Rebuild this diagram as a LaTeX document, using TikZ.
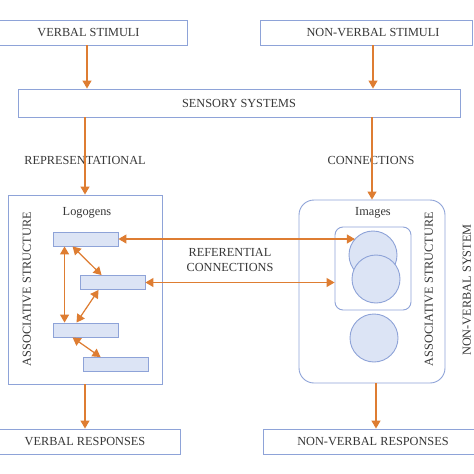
\documentclass[tikz,border=0pt]{standalone}
\usepackage{fontspec}
\setmainfont{Liberation Serif}
\usetikzlibrary{arrows.meta}

\definecolor{edgeblue}{RGB}{142,163,216}
\definecolor{fillblue}{RGB}{220,228,245}
\definecolor{linkorange}{RGB}{222,125,50}
\definecolor{textgray}{RGB}{55,55,55}

\begin{document}
\begin{tikzpicture}[
            x=1pt, y=-1pt,
            every node/.style={text=textgray, font=\fontsize{12.3}{14}\selectfont},
            box/.style={rectangle, draw=edgeblue, line width=0.9pt, fill=white, inner sep=0pt},
            logogen/.style={rectangle, draw=edgeblue, line width=0.9pt, fill=fillblue, minimum width=65pt, minimum height=14pt},
            image/.style={circle, draw=edgeblue, line width=0.9pt, fill=fillblue, minimum size=48pt, inner sep=0pt},
            arrow/.style={-{Triangle[width=9pt,length=8pt]}, draw=linkorange, fill=linkorange, line width=1.2pt},
            twoway/.style={{Triangle[width=9pt,length=8pt]}-{Triangle[width=9pt,length=8pt]}, draw=linkorange, fill=linkorange, line width=1.2pt}
        ]
            \clip (0,0) rectangle (474,474);
            \useasboundingbox (0,0) rectangle (474,474);

            % Stimuli
            \node[box, minimum width=197pt, minimum height=25pt] (vstim) at (88.5, 32.5) {VERBAL STIMULI};
            \node[box, minimum width=212pt, minimum height=25pt] (nvstim) at (366, 32.5) {\hspace*{14pt}NON-VERBAL STIMULI};
            \node[box, minimum width=442pt, minimum height=28pt] (sensory) at (239, 103) {SENSORY SYSTEMS};

            % Systems
            \node[box, minimum width=154pt, minimum height=189pt] (lbox) at (85, 289.5) {};
            \node[box, rounded corners=15pt, minimum width=146pt, minimum height=183pt] (rbox) at (372, 291.5) {};
            \node[box, rounded corners=8pt, minimum width=76pt, minimum height=83pt] (inner) at (373, 268.5) {};

            % Responses
            \node[box, minimum width=190pt, minimum height=25pt] (vresp) at (85, 441.5) {VERBAL RESPONSES};
            \node[box, minimum width=220pt, minimum height=25pt] (nvresp) at (373, 441.5) {NON-VERBAL RESPONSES};

            % Labels
            \node (repr) at (85, 160) {REPRESENTATIONAL};
            \node (conn) at (371, 160) {CONNECTIONS};
            \node (logo) at (87, 213) {Logogens};
            \node (imgs) at (373, 213) {Images};
            \node[rotate=90] (lassoc) at (27, 289) {ASSOCIATIVE STRUCTURE};
            \node[rotate=90] (rassoc) at (429, 289) {ASSOCIATIVE STRUCTURE};
            \node[rotate=90] (nvsys) at (467, 290) {NON-VERBAL SYSTEM};
            \node[align=center, font=\fontsize{12.3}{15}\selectfont] (refer) at (230, 259.5) {REFERENTIAL\\CONNECTIONS};

            % Logogens
            \node[logogen] (r1) at (85.5, 239) {};
            \node[logogen] (r2) at (112.5, 282.5) {};
            \node[logogen] (r3) at (85.5, 330) {};
            \node[logogen] (r4) at (115.5, 364.5) {};

            % Images
            \node[image] (c1) at (373, 255) {};
            \node[image] (c2) at (376, 279) {};
            \node[image] (c3) at (374, 338) {};

            % Arrows
            \draw[arrow] ([xshift=-1.5pt]vstim.south) -- ([xshift=-1.5pt]vstim.south |- sensory.north);
            \draw[arrow] ([xshift=7pt]nvstim.south) -- ([xshift=7pt]nvstim.south |- sensory.north);
            \draw[arrow] (lbox.north |- sensory.south) -- (lbox.north);
            \draw[arrow] (rbox.north |- sensory.south) -- (rbox.north);
            \draw[arrow] (lbox.south) -- (vresp.north);
            \draw[arrow] ([xshift=4pt]rbox.south) -- ([xshift=4pt]rbox.south |- nvresp.north);

            % Referential connections
            \draw[twoway] (r1.east) -- (r1.east -| c1.138);
            \draw[twoway] (r2.east) -- (r2.east -| inner.west);

            % Associative links
            \draw[twoway] ([xshift=12pt]r1.south west) -- ([xshift=12pt]r3.north west);
            \draw[twoway] ([xshift=20pt]r1.south west) -- ([xshift=22pt]r2.north west);
            \draw[twoway] ([xshift=19pt]r2.south west) -- ([xshift=24pt]r3.north west);
            \draw[twoway] ([xshift=20pt]r3.south west) -- ([xshift=18pt]r4.north west);
        \end{tikzpicture}
\end{document}
